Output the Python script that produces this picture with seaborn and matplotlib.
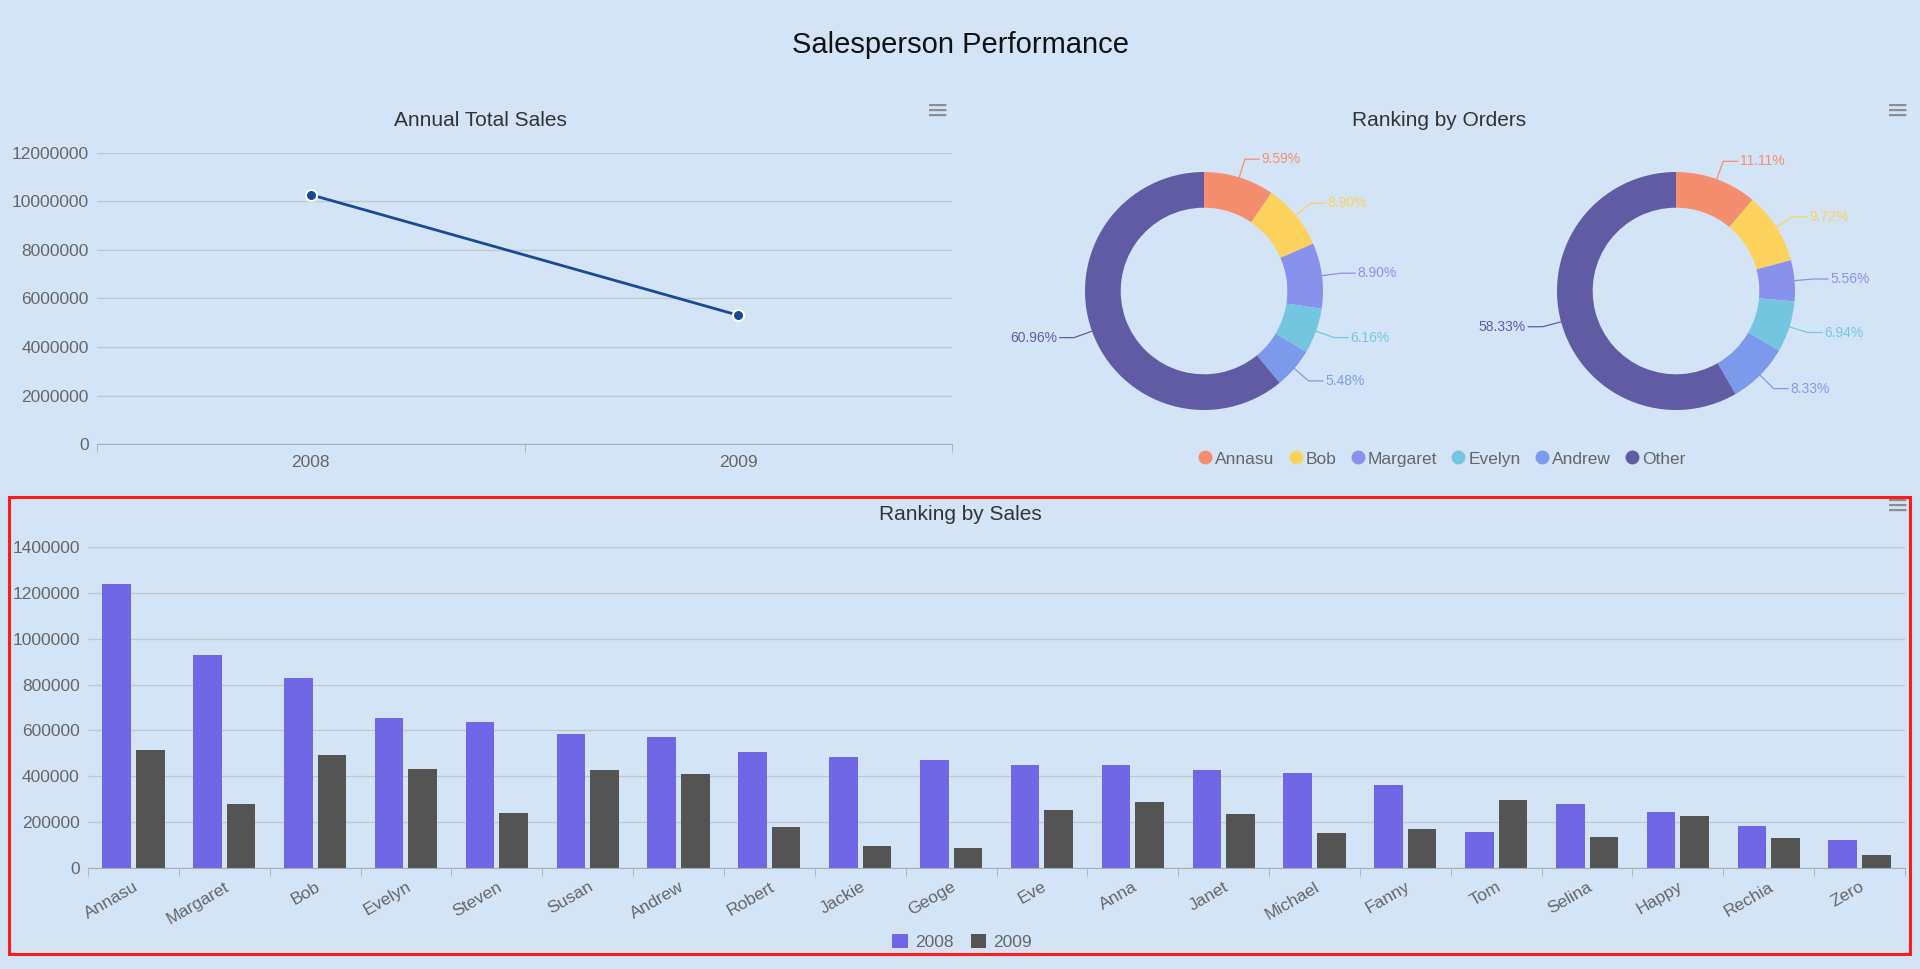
import numpy as np
import pandas as pd
import matplotlib
matplotlib.use("Agg")
import matplotlib.pyplot as plt
from matplotlib.lines import Line2D
from matplotlib.patches import Patch, Rectangle
import seaborn as sns

#--------------------------------------------------------------
# Data
#--------------------------------------------------------------
years = ['2008', '2009']
annual_totals = [10280000, 5310000]

pie_names = ['Annasu', 'Bob', 'Margaret', 'Evelyn', 'Andrew', 'Other']
orders_2008 = [9.59, 8.90, 8.90, 6.16, 5.48, 60.96]
orders_2009 = [11.11, 9.72, 5.56, 6.94, 8.33, 58.33]

sales_names = ['Annasu', 'Margaret', 'Bob', 'Evelyn', 'Steven', 'Susan', 'Andrew',
               'Robert', 'Jackie', 'Geoge', 'Eve', 'Anna', 'Janet', 'Michael',
               'Fanny', 'Tom', 'Selina', 'Happy', 'Rechia', 'Zero']
sales_2008 = [1240000, 928000, 828000, 654000, 637000, 584000, 571000,
              506000, 484000, 471000, 450000, 450000, 428000, 415000,
              362000, 158000, 280000, 245000, 184000, 123000]
sales_2009 = [515000, 280000, 493000, 432000, 241000, 428000, 410000,
              180000, 97000, 88000, 254000, 289000, 236000, 154000,
              171000, 297000, 136000, 228000, 132000, 58000]

#--------------------------------------------------------------
# Style
#--------------------------------------------------------------
BG = '#d4e4f7'
GRID = '#c2c6cc'
TICK = '#666666'
TITLE = '#333333'
pie_colors = ['#f58d6f', '#fdd25c', '#8891eb', '#74c5e0', '#7b9aeb', '#615ba3']
bar_colors = {'2008': '#7166e6', '2009': '#545454'}

plt.rcParams['font.family'] = ['Liberation Sans', 'DejaVu Sans']

W, H = 1920, 969
fig = plt.figure(figsize=(W / 100, H / 100), dpi=100, facecolor=BG)


def fx(px):
    return px / W


def fy(py):
    return 1 - py / H


def style_axes(ax):
    ax.set_facecolor(BG)
    for s in ['top', 'right', 'left']:
        ax.spines[s].set_visible(False)
    ax.spines['bottom'].set_color('#a8adb5')
    ax.grid(axis='y', color=GRID, linewidth=1)
    ax.set_axisbelow(True)
    ax.tick_params(axis='y', length=0, labelsize=12.5, labelcolor=TICK, pad=6)
    ax.tick_params(axis='x', which='major', length=0, labelsize=12.5, labelcolor=TICK, pad=8)
    ax.tick_params(axis='x', which='minor', length=6, color='#a8adb5')
    ax.set_xlabel('')
    ax.set_ylabel('')


#--------------------------------------------------------------
# Title
#--------------------------------------------------------------
fig.text(0.5, fy(45), 'Salesperson Performance', ha='center', va='center',
         fontsize=21, color='#111111')

#--------------------------------------------------------------
# 1. Annual total sales line
#--------------------------------------------------------------
ax1 = fig.add_axes([fx(97), fy(444), fx(952 - 97), (444 - 153) / H])
sns.lineplot(x=[0, 1], y=annual_totals, ax=ax1, color='#1a4a96', linewidth=2,
             marker='o', markersize=8, markeredgecolor='white', markeredgewidth=1.5)
ax1.set_xlim(-0.5, 1.5)
ax1.set_ylim(0, 12000000)
ax1.set_yticks(np.arange(0, 12000001, 2000000))
ax1.set_yticklabels([str(v) for v in range(0, 12000001, 2000000)])
ax1.set_xticks([0, 1])
ax1.set_xticklabels(years)
ax1.set_xticks([-0.5, 0.5, 1.5], minor=True)
style_axes(ax1)
fig.text(fx(480), fy(121), 'Annual Total Sales', ha='center', va='center',
         fontsize=15, color=TITLE)

#--------------------------------------------------------------
# 2. Ranking by orders (two donuts)
#--------------------------------------------------------------
fig.text(fx(1439), fy(121), 'Ranking by Orders', ha='center', va='center',
         fontsize=15, color=TITLE)

R = 119


def donut(cx, cy, values):
    ax = fig.add_axes([fx(cx - R), fy(cy + R), fx(2 * R), 2 * R / H])
    ax.set_facecolor(BG)
    wedges, _ = ax.pie(values, colors=pie_colors, startangle=90, counterclock=False,
                       radius=1, wedgeprops=dict(width=0.3, linewidth=0))
    ax.set_xlim(-1, 1)
    ax.set_ylim(-1, 1)
    ax.set_aspect('equal')
    ax.axis('off')
    for w, v, c in zip(wedges, values, pie_colors):
        ang = np.deg2rad((w.theta1 + w.theta2) / 2)
        x0, y0 = np.cos(ang), np.sin(ang)
        x1, y1 = 1.16 * x0, 1.16 * y0
        sgn = 1 if x0 >= 0 else -1
        x2 = x1 + sgn * 0.12
        ax.plot([x0, x1, x2], [y0, y1, y1], color=c, lw=0.9, clip_on=False)
        ax.text(x2 + sgn * 0.02, y1, f'{v:.2f}%', ha='left' if sgn > 0 else 'right',
                va='center', color=c, fontsize=10, clip_on=False)


donut(1204, 291, orders_2008)
donut(1676, 291, orders_2009)

pie_handles = [Line2D([], [], linestyle='none', marker='o', markersize=9,
                      markerfacecolor=c, markeredgecolor=c) for c in pie_colors]
fig.legend(pie_handles, pie_names, loc='center', bbox_to_anchor=(fx(1441), fy(459)),
           ncol=6, frameon=False, fontsize=12.5, labelcolor=TICK,
           handletextpad=0.1, columnspacing=0.7, handlelength=1.0)

#--------------------------------------------------------------
# 3. Ranking by sales bars
#--------------------------------------------------------------
fig.patches.append(Rectangle((fx(9), fy(954)), fx(1901), 457 / H, transform=fig.transFigure,
                             fill=False, edgecolor='#ff1a1a', linewidth=2.2, zorder=5))

df = pd.DataFrame({
    'name': sales_names * 2,
    'year': ['2008'] * len(sales_names) + ['2009'] * len(sales_names),
    'sales': sales_2008 + sales_2009,
})

ax3 = fig.add_axes([fx(88), fy(868), fx(1905 - 88), (868 - 547) / H])
sns.barplot(data=df, x='name', y='sales', hue='year', palette=bar_colors,
            width=0.74, gap=0.15, saturation=1, legend=False, ax=ax3)
ax3.set_xlim(-0.5, len(sales_names) - 0.5)
ax3.set_ylim(0, 1400000)
ax3.set_yticks(np.arange(0, 1400001, 200000))
ax3.set_yticklabels([str(v) for v in range(0, 1400001, 200000)])
ax3.set_xticks(np.arange(-0.5, len(sales_names), 1), minor=True)
style_axes(ax3)
plt.setp(ax3.get_xticklabels(), rotation=30, ha='right', rotation_mode='anchor')
fig.text(fx(960), fy(514), 'Ranking by Sales', ha='center', va='center',
         fontsize=15, color=TITLE)

bar_handles = [Patch(facecolor=bar_colors[y], edgecolor='none') for y in years]
fig.legend(bar_handles, years, loc='center', bbox_to_anchor=(fx(962), fy(942)),
           ncol=2, frameon=False, fontsize=12.5, labelcolor=TICK,
           handlelength=0.9, handleheight=0.9, handletextpad=0.4, columnspacing=1.0)

#--------------------------------------------------------------
# Menu icons
#--------------------------------------------------------------
for mx, my in [(938, 111), (1898, 111), (1898, 506)]:
    fig.text(fx(mx), fy(my), '\u2261', ha='center', va='center', fontsize=20,
             color='#8c8c8c', family=['DejaVu Sans'])

fig.savefig('out.png', dpi=100, facecolor=BG)
